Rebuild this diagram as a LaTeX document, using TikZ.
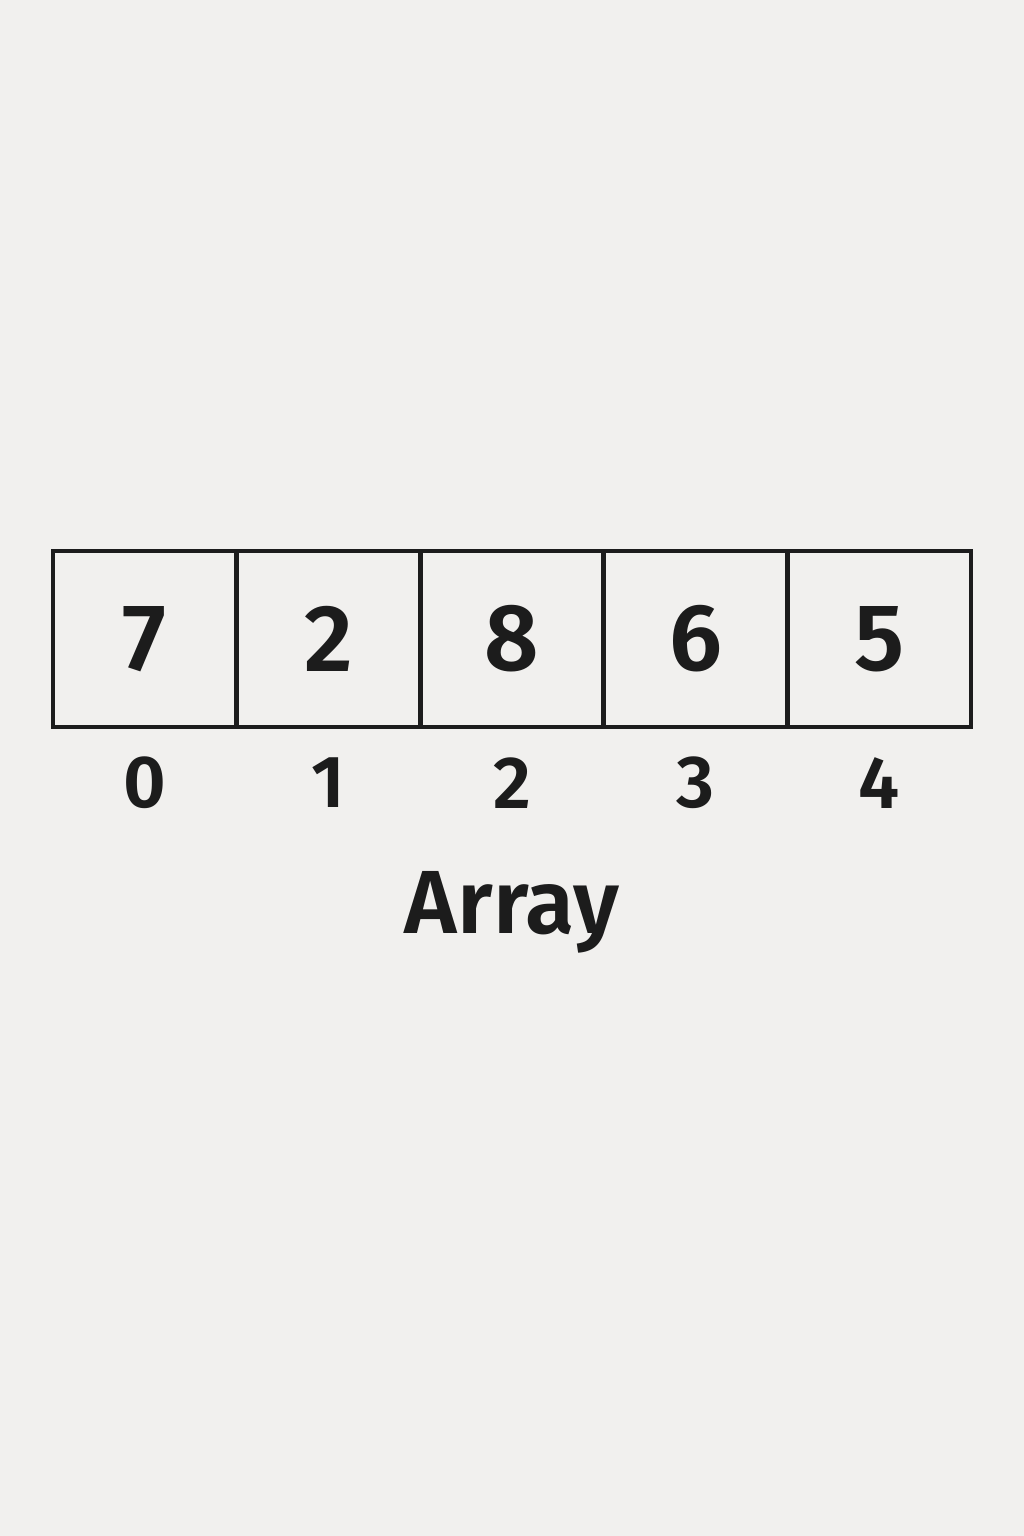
\documentclass[tikz,border=0pt]{standalone}
\usepackage{fontspec}
\setmainfont{Fira Sans SemiBold}
\definecolor{paper}{RGB}{241,240,238}
\definecolor{ink}{RGB}{28,28,28}

\begin{document}
\begin{tikzpicture}[x=0.01cm, y=-0.01cm,
        cell/.style={draw=ink, line width=1.3pt, minimum width=1.836cm, minimum height=1.76cm,
            inner sep=0pt, outer sep=0pt, text=ink, font=\fontsize{27}{30}\selectfont},
        idx/.style={text=ink, inner sep=0pt, font=\fontsize{21}{24}\selectfont},
        title/.style={text=ink, inner sep=0pt, font=\fontsize{25.5}{28}\selectfont}]
        \fill[paper] (0,0) rectangle (1024,1536);
        % Cells and their indices
        \foreach \v [count=\k from 0] in {7,2,8,6,5} {
            \node[cell] (c\k) at (144.8+183.6*\k, 639) {\v};
            \node[idx] (i\k) at ([yshift=-1.44cm]c\k.center) {\k};
        }
        % Caption
        \node[title, anchor=base] (arr) at (512, 933) {Array};
    \end{tikzpicture}
\end{document}
